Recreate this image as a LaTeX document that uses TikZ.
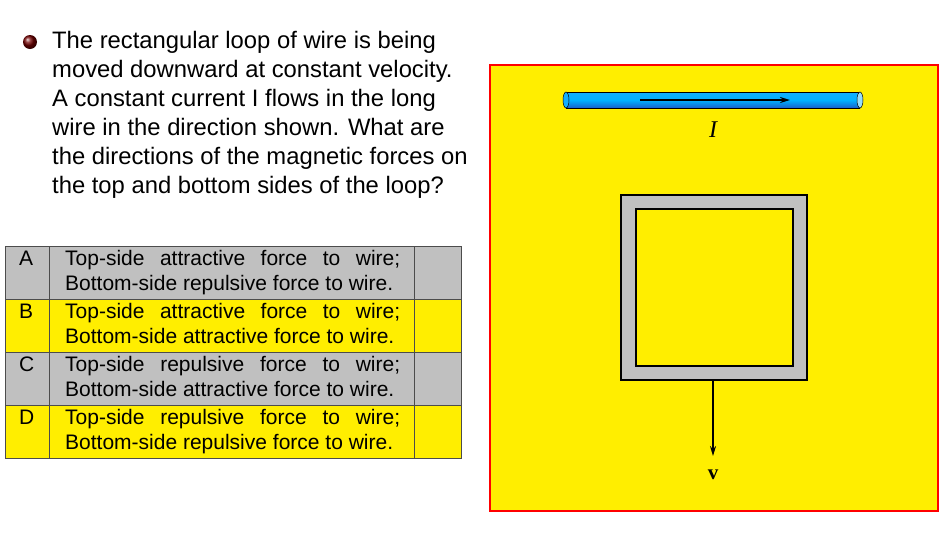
\documentclass[tikz,border=0pt]{standalone}
\usepackage{fontspec}
\setmainfont{Liberation Sans}
\newfontfamily\serifI{Liberation Serif}
\usetikzlibrary{arrows.meta,shadings}
\definecolor{yel}{HTML}{FFEE00}
\definecolor{gry}{HTML}{C0C0C0}
\definecolor{wireblue}{HTML}{1E78FF}
\begin{document}
\begin{tikzpicture}[x=1pt,y=-1pt,
  qline/.style={anchor=west,inner sep=0,font=\fontsize{23.8}{26}\selectfont},
  cell/.style={draw=black!70,line width=0.6pt},
  opt/.style={anchor=west,inner sep=0,font=\fontsize{21}{23}\selectfont},
  ]
\useasboundingbox (0,0) rectangle (944,536);
\fill[white] (0,0) rectangle (944,536);
% bullet
\shade[ball color=red!45!black] (30,42) circle (7);
\foreach \t [count=\i] in {The rectangular loop of wire is being,moved downward at constant velocity.,A constant current I flows in the long,wire in the direction shown. What are,the directions of the magnetic forces on,the top and bottom sides of the loop?}
  \node[qline] (q\i) at (52,{43+29*(\i-1)}) {\strut\t};
% table
\foreach \L/\c/\a/\b [count=\i] in {A/gry/attractive/repulsive,B/yel/attractive/attractive,C/gry/repulsive/attractive,D/yel/repulsive/repulsive}{
  \pgfmathsetmacro{\y}{246+53*(\i-1)}
  \fill[\c] (5,\y) rectangle (461,\y+53);
  \draw[cell] (5,\y) rectangle (49,\y+53);
  \draw[cell] (49,\y) rectangle (414,\y+53);
  \draw[cell] (414,\y) rectangle (461,\y+53);
  \node[opt] (l\i) at (19,\y+15) {\strut\L};
  \node[opt] (t\i) at (65,\y+15) {\strut\hbox to 335pt{Top-side\hfill \a\hfill force\hfill to\hfill wire;}};
  \node[opt] (u\i) at (65,\y+40) {\strut Bottom-side \b\ force to wire.};
}
% right panel
\draw[red,line width=1.6pt,fill=yel] (490,65) rectangle (938,511);
% wire
\shade[top color=wireblue!60!cyan,bottom color=wireblue!80!black,middle color=cyan!70!blue] (566,92) rectangle (860,108);
\draw[black,line width=0.5pt] (566,92) -- (860,92) (566,108) -- (860,108);
\draw[black,line width=0.5pt,fill=wireblue!60!cyan] (566,100) ellipse (3 and 8);
\draw[black,line width=0.5pt,fill=cyan!40] (860,100) ellipse (3 and 8);
\coordinate (wa) at (640,100);
\coordinate (wb) at (790,100);
\draw[line width=2pt,-{Stealth[length=10pt,width=6pt]}] (wa) -- (wb);
\node[font=\fontsize{24}{26}\selectfont\serifI\itshape] (I) at (713,130) {I};
% loop
\draw[black,line width=1.2pt,fill=gry] (621,195) rectangle (807,380);
\draw[black,line width=1.2pt,fill=yel] (636,209) rectangle (793,366);
\coordinate (lb) at (713,380);
\node[font=\fontsize{21}{23}\selectfont\serifI\bfseries] (v) at (713,475) {v};
\draw[line width=2pt,-{Stealth[length=10pt,width=6pt]}] (lb) -- (713,456);
\end{tikzpicture}
\end{document}
